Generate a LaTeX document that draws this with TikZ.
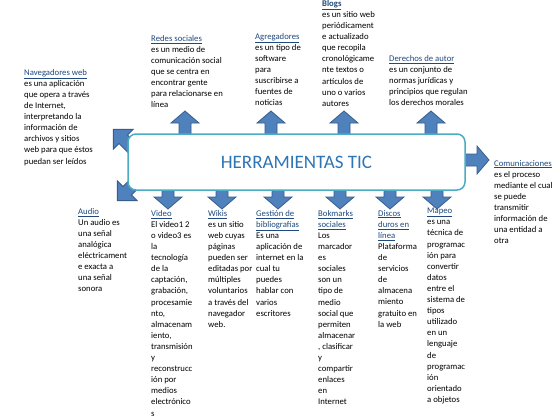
\documentclass[tikz,border=0pt]{standalone}
\usepackage{fontspec}
\setmainfont{Carlito}
\definecolor{linkblue}{RGB}{31,73,125}
\definecolor{arrowfill}{RGB}{79,129,189}
\definecolor{arrowline}{RGB}{56,93,138}
\definecolor{boxline}{RGB}{75,172,198}
\definecolor{titleblue}{RGB}{46,117,182}
\newcommand{\lk}[1]{\textcolor{linkblue}{\underline{#1}}}
\begin{document}
\begin{tikzpicture}[x=1pt,y=-1pt,
  txt/.style={anchor=north west, inner sep=0pt, align=left, font=\fontsize{8.7}{11.1}\selectfont},
  arrowstyle/.style={draw=arrowline, fill=arrowfill, line width=0.8pt, line join=miter},
  blockarrow/.pic={\path[arrowstyle]
     (-6,4) -- (-6,-11) -- (-14,-11) -- (0,-23) -- (14,-11) -- (6,-11) -- (6,4) -- cycle;},
  diagarrow/.pic={\path[arrowstyle]
     (-6,4) -- (-6,-18) -- (-14,-18) -- (0,-32) -- (14,-18) -- (6,-18) -- (6,4) -- cycle;}
]
\useasboundingbox (0,0) rectangle (560,420);
\fill[white] (0,0) rectangle (560,420);
% arrows
\pic (aNav) [rotate=45] at (136,152) {diagarrow};
\pic (aAud) [rotate=135] at (140,178) {diagarrow};
\pic (aRed) at (185,134) {blockarrow};
\pic (aAgr) at (271,134) {blockarrow};
\pic (aBlo) at (344,134) {blockarrow};
\pic (aDer) at (431,134) {blockarrow};
\pic (aCom) [rotate=-90] at (466,160) {blockarrow};
\pic (aVid) [rotate=180] at (168,186) {blockarrow};
\pic (aWik) [rotate=180] at (222,186) {blockarrow};
\pic (aGes) [rotate=180] at (278,186) {blockarrow};
\pic (aBok) [rotate=180] at (340,186) {blockarrow};
\pic (aDis) [rotate=180] at (390,186) {blockarrow};
\pic (aMap) [rotate=180] at (437,186) {blockarrow};
% central box
\node[draw=boxline, line width=1.5pt, rounded corners=8pt, fill=white,
      minimum width=337pt, minimum height=56pt, inner sep=0pt,
      font=\fontsize{19}{22}\selectfont, text=titleblue] (tic) at (296.5,162) {HERRAMIENTAS TIC};
% texts
\node[txt] (nav) at (24,69) {\lk{Navegadores web}\\es una aplicación\\que opera a través\\de Internet,\\interpretando la\\información de\\archivos y sitios\\web para que éstos\\puedan ser leídos};
\node[txt] (red) at (151,35) {\lk{Redes sociales}\\es un medio de\\comunicación social\\que se centra en\\encontrar gente\\para relacionarse en\\línea};
\node[txt] (agr) at (255,33) {\lk{Agregadores}\\es un tipo de\\software\\para\\suscribirse a\\fuentes de\\noticias};
\node[txt] (blo) at (322,0) {\lk{\textbf{Blogs}}\\es un sitio web\\periódicament\\e actualizado\\que recopila\\cronológicame\\nte textos o\\artículos de\\uno o varios\\autores};
\node[txt] (der) at (389,55) {\lk{Derechos de autor}\\es un conjunto de\\normas jurídicas y\\principios que regulan\\los derechos morales};
\node[txt] (com) at (494,160) {\lk{Comunicaciones}\\es el proceso\\mediante el cual\\se puede\\transmitir\\información de\\una entidad a\\otra};
\node[txt] (aud) at (78,208) {\lk{Audio}\\Un audio es\\una señal\\analógica\\eléctricament\\e exacta a\\una señal\\sonora};
\node[txt] (vid) at (151,210) {\lk{Video}\\El video1 2\\o video3 es\\la\\tecnología\\de la\\captación,\\grabación,\\procesamie\\nto,\\almacenam\\iento,\\transmisión\\y\\reconstrucc\\ión por\\medios\\electrónico\\s};
\node[txt] (wik) at (208,210) {\lk{Wikis}\\es un sitio\\web cuyas\\páginas\\pueden ser\\editadas por\\múltiples\\voluntarios\\a través del\\navegador\\web.};
\node[txt] (ges) at (256,210) {\lk{Gestión de}\\\lk{bibliografías}\\Es una\\aplicación de\\internet en la\\cual tu\\puedes\\hablar con\\varios\\escritores};
\node[txt] (bok) at (318,210) {\lk{Bokmarks}\\\lk{sociales}\\Los\\marcador\\es\\sociales\\son un\\tipo de\\medio\\social que\\permiten\\almacenar\\, clasificar\\y\\compartir\\enlaces\\en\\Internet};
\node[txt] (dis) at (378,210) {\lk{Discos}\\\lk{duros en}\\\lk{línea}\\Plataforma\\de\\servicios\\de\\almacena\\miento\\gratuito en\\la web};
\node[txt] (map) at (427,208) {\lk{Mapeo}\\es una\\técnica de\\programac\\ión para\\convertir\\datos\\entre el\\sistema de\\tipos\\utilizado\\en un\\lenguaje\\de\\programac\\ión\\orientado\\a objetos};
\end{tikzpicture}
\end{document}
